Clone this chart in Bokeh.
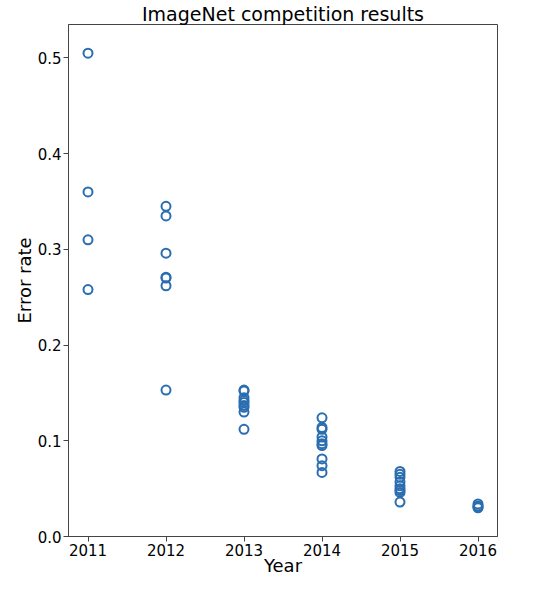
from bokeh.plotting import figure
from bokeh.models import Range1d, FixedTicker, PrintfTickFormatter
from bokeh.embed import file_html
from bokeh.resources import INLINE

years = [2011, 2012, 2013, 2014, 2015, 2016]
err_2011 = [0.505, 0.360, 0.310, 0.258]
err_2012 = [0.345, 0.335, 0.296, 0.271, 0.270, 0.262, 0.153]
err_2013 = [0.153, 0.152, 0.145, 0.142, 0.140, 0.137, 0.135, 0.130, 0.112]
err_2014 = [0.124, 0.114, 0.112, 0.104, 0.100, 0.097, 0.095, 0.081, 0.074, 0.067]
err_2015 = [0.068, 0.065, 0.062, 0.057, 0.053, 0.050, 0.048, 0.046, 0.036]
err_2016 = [0.034, 0.032, 0.031, 0.030]

all_errs = [err_2011, err_2012, err_2013, err_2014, err_2015, err_2016]
xs, ys = [], []
for yr, errs in zip(years, all_errs):
    xs += [yr] * len(errs)
    ys += errs

FONT = "DejaVu Sans"
EDGE = "#444444"

p = figure(
    width=536, height=578,
    title="ImageNet competition results",
    x_axis_label="Year",
    y_axis_label="Error rate",
    x_range=Range1d(2010.75, 2016.25),
    y_range=Range1d(0, 0.535),
    output_backend="svg",
    toolbar_location=None,
    min_border_left=68, min_border_right=39,
    min_border_top=0, min_border_bottom=0,
)

p.scatter(xs, ys, marker="circle", size=9, line_width=2,
          line_color="#2a6db0", fill_color=None)

p.title.text_font = FONT
p.title.text_font_size = "19px"
p.title.text_font_style = "normal"
p.title.text_color = "black"
p.title.align = "center"
p.title.standoff = 0
p.title.offset = 0

p.xgrid.visible = False
p.ygrid.visible = False
p.outline_line_color = EDGE
p.outline_line_width = 1

p.xaxis.ticker = FixedTicker(ticks=years)
p.yaxis.ticker = FixedTicker(ticks=[0.0, 0.1, 0.2, 0.3, 0.4, 0.5])
p.yaxis.formatter = PrintfTickFormatter(format="%.1f")

for ax in (p.xaxis, p.yaxis):
    ax.axis_line_color = EDGE
    ax.major_tick_line_color = EDGE
    ax.major_tick_out = 5
    ax.major_tick_in = 0
    ax.minor_tick_line_color = None
    ax.major_label_text_font = FONT
    ax.major_label_text_font_size = "15px"
    ax.major_label_text_color = "black"
    ax.axis_label_text_font = FONT
    ax.axis_label_text_font_size = "18px"
    ax.axis_label_text_font_style = "normal"
    ax.axis_label_text_color = "black"

p.xaxis.major_label_standoff = 2
p.xaxis.axis_label_standoff = -4
p.yaxis.major_label_standoff = 2
p.yaxis.axis_label_standoff = 0

open("out.html", "w").write(file_html(p, INLINE))
